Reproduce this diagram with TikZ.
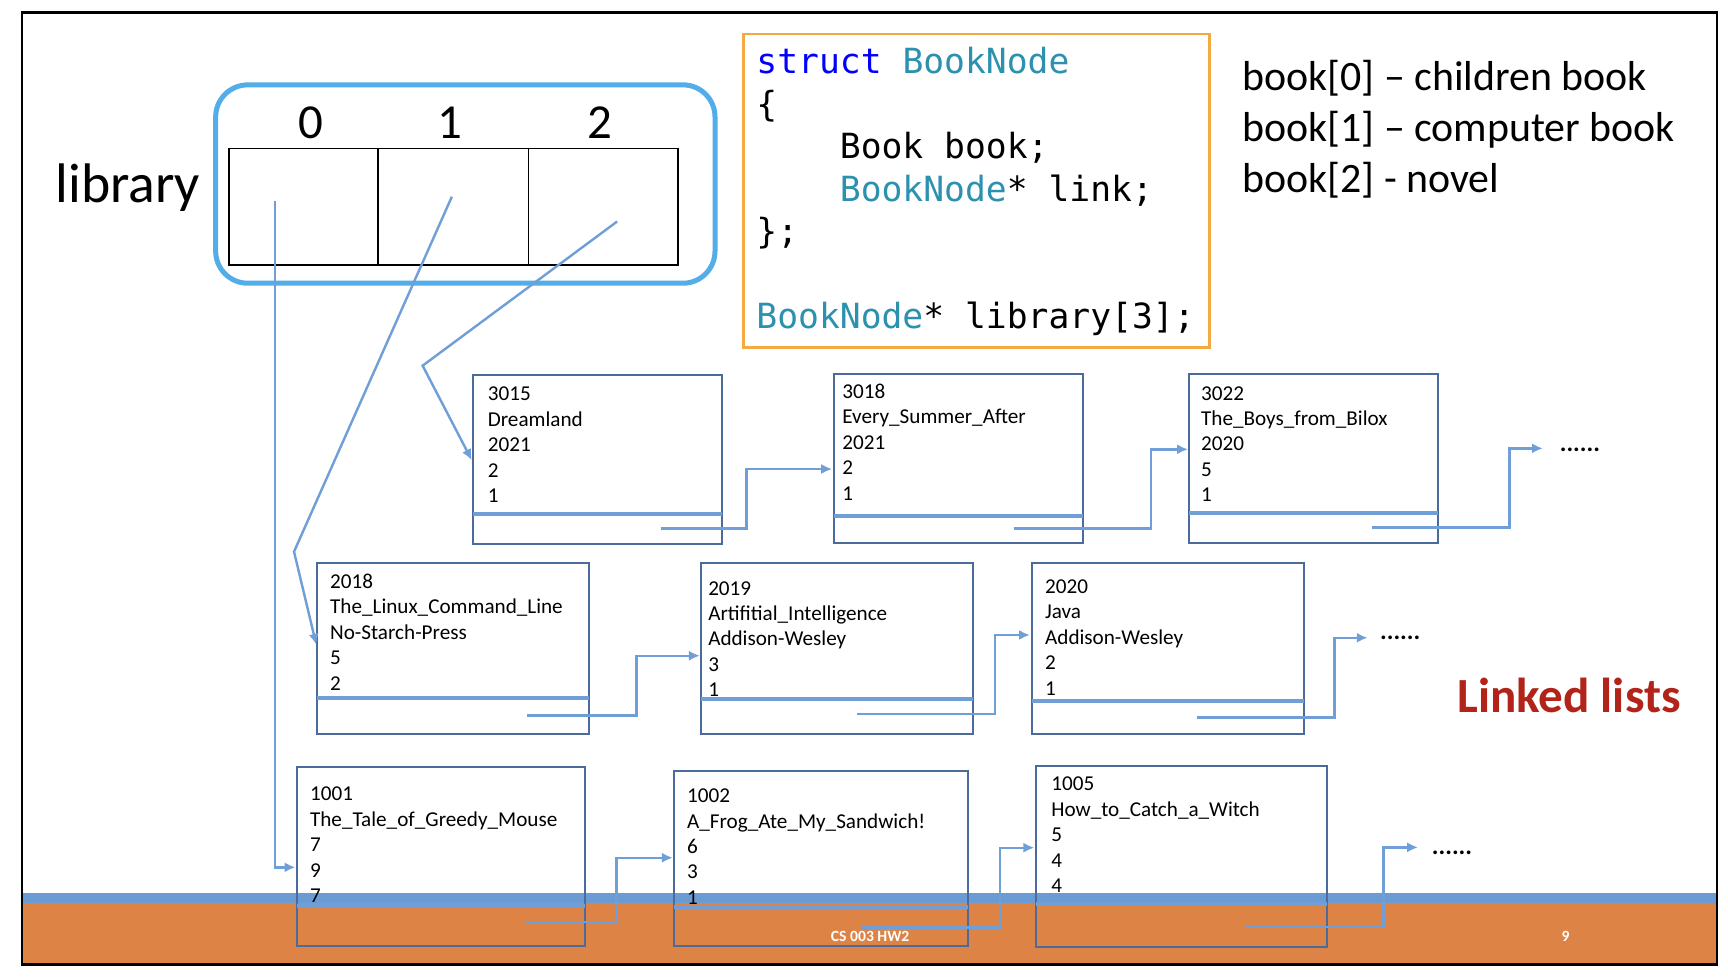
\documentclass[tikz,border=0pt]{standalone}
\usepackage{fontspec}
\setmainfont{Carlito}
\newfontfamily\codefont{DejaVu Sans Mono}
\usetikzlibrary{arrows.meta}
\definecolor{boxc}{RGB}{74,107,155}
\definecolor{linkc}{RGB}{112,158,214}
\definecolor{stripec}{RGB}{106,155,211}
\definecolor{footc}{RGB}{222,131,70}
\definecolor{arrc}{RGB}{82,173,232}
\definecolor{codeframe}{RGB}{245,170,65}
\definecolor{kw}{RGB}{0,0,255}
\definecolor{ty}{RGB}{43,145,175}
\definecolor{redc}{RGB}{178,35,25}
\newcommand\bookbox[6]{%
  \node[bookbox, minimum width={(#4-#2)*0.55pt}, minimum height={(#5-#3)*0.55pt}] (#1) at ({(#2+#4)/2},{(#3+#5)/2}) {};
  \draw[sepline] (#1.west |- 0,#6) -- (#1.east |- 0,#6);
}
\tikzset{
  bookbox/.style={draw=boxc, line width=1pt, inner sep=0pt, outer sep=0pt},
  sepline/.style={draw=linkc, line width=2pt},
  booktxt/.style={anchor=base west, inner sep=0pt, font=\fontsize{10.56pt}{12.7pt}\selectfont},
  ptr/.style={draw=linkc, line width=1.2pt, -{Latex[length=5.4pt,width=5pt]}},
  cellbox/.style={draw=black, line width=0.8pt, inner sep=0pt, minimum width=74.5pt, minimum height=58.2pt},
  idx/.style={anchor=base, inner sep=0pt, font=\fontsize{24.4pt}{28pt}\selectfont},
  dotstxt/.style={anchor=base west, inner sep=0pt, font=\fontsize{12.5pt}{14pt}\selectfont\bfseries},
  foot/.style={inner sep=0pt, text=white, font=\fontsize{7.8pt}{9pt}\selectfont\bfseries},
}
\begin{document}
\begin{tikzpicture}[x=0.55pt,y=-0.55pt]
\useasboundingbox (0,0) rectangle (1568,887);
\fill[white] (0,0) rectangle (1568,887);
% footer
\fill[stripec] (20,810) rectangle (1558,819);
\fill[footc] (20,819) rectangle (1558,874);
\draw[black, line width=1.4pt] (20,11) rectangle (1558,875);
\node[foot] (course) at (789.6,850) {CS 003 HW2};
\node[foot] (page) at (1420.6,850) {9};

% array
\draw[arrc, line width=2.5pt, rounded corners=16pt] (195.7,77) rectangle (648.8,257);
\node[anchor=base west, inner sep=0pt, font=\fontsize{27.8pt}{33pt}\selectfont] (lib) at (50,183.6) {library};
\node[idx] (i0) at (282,125.5) {0};
\node[idx] (i1) at (408,125.5) {1};
\node[idx] (i2) at (544,125.5) {2};
\node[cellbox, minimum width={135*0.55pt}, minimum height={105.9*0.55pt}] (cell0) at (275.5,187.55) {};
\node[cellbox, minimum width={136.5*0.55pt}, minimum height={105.9*0.55pt}] (cell1) at (411.25,187.55) {};
\node[cellbox, minimum width={135.5*0.55pt}, minimum height={105.9*0.55pt}] (cell2) at (547.25,187.55) {};

% code
\draw[codeframe, line width=1.3pt] (674.5,30.9) rectangle (1097.5,315.5);
\node[anchor=base west, inner sep=0pt, font=\codefont\fontsize{17.3pt}{21.2pt}\selectfont] (code) at (686,67) {%
\begin{tabular}[t]{@{}l@{}}
{\color{kw}struct} {\color{ty}BookNode}\\
\{\\
\phantom{0000}Book book;\\
\phantom{0000}{\color{ty}BookNode}* link;\\
\};\\
\mbox{}\\
{\color{ty}BookNode}* library[3];
\end{tabular}};

\node[anchor=base west, inner sep=0pt, font=\fontsize{20.9pt}{25.5pt}\selectfont] (kinds) at (1127,82.3) {%
\begin{tabular}[t]{@{}l@{}}
book[0] – children book\\
book[1] – computer book\\
book[2] - novel
\end{tabular}};

\node[anchor=base west, inner sep=0pt, text=redc, font=\fontsize{24.5pt}{28pt}\selectfont\bfseries] (title) at (1322,646.7) {Linked lists};

% boxes
\bookbox{b3015}{429.4}{340.3}{655.4}{493.6}{466.7}
\bookbox{b3018}{756.5}{339.4}{982.4}{492.8}{468.2}
\bookbox{b3022}{1079.3}{339.4}{1305.2}{492.4}{465.2}
\bookbox{b2018}{288}{511.2}{534.9}{666.4}{633}
\bookbox{b2019}{636.4}{510.6}{882.9}{666.4}{634.3}
\bookbox{b2020}{936.1}{511.2}{1183.4}{666.4}{636}
\bookbox{b1001}{269.8}{696.3}{530.7}{858.1}{822.1}
\bookbox{b1002}{611.9}{699.3}{878.2}{858.1}{822.7}
\bookbox{b1005}{939.9}{694.8}{1204.4}{859}{820.6}

\node[booktxt] (t3015) at (442.3,363.6) {\begin{tabular}[t]{@{}l@{}}3015\\Dreamland\\2021\\2\\1\end{tabular}};
\node[booktxt] (t3018) at (764,361.4) {\begin{tabular}[t]{@{}l@{}}3018\\Every\_Summer\_After\\2021\\2\\1\end{tabular}};
\node[booktxt] (t3022) at (1089.5,363) {\begin{tabular}[t]{@{}l@{}}3022\\The\_Boys\_from\_Bilox\\2020\\5\\1\end{tabular}};
\node[booktxt] (t2018) at (299.2,533.8) {\begin{tabular}[t]{@{}l@{}}2018\\The\_Linux\_Command\_Line\\No-Starch-Press\\5\\2\end{tabular}};
\node[booktxt] (t2019) at (642.3,539.9) {\begin{tabular}[t]{@{}l@{}}2019\\Artifitial\_Intelligence\\Addison-Wesley\\3\\1\end{tabular}};
\node[booktxt] (t2020) at (948,538.4) {\begin{tabular}[t]{@{}l@{}}2020\\Java\\Addison-Wesley\\2\\1\end{tabular}};
\node[booktxt] (t1001) at (281,726.8) {\begin{tabular}[t]{@{}l@{}}1001\\The\_Tale\_of\_Greedy\_Mouse\\7\\9\\7\end{tabular}};
\node[booktxt] (t1002) at (623.2,728.3) {\begin{tabular}[t]{@{}l@{}}1002\\A\_Frog\_Ate\_My\_Sandwich!\\6\\3\\1\end{tabular}};
\node[booktxt] (t1005) at (953.7,717.7) {\begin{tabular}[t]{@{}l@{}}1005\\How\_to\_Catch\_a\_Witch\\5\\4\\4\end{tabular}};

\node[dotstxt] (d1) at (1415,410) {......};
\node[dotstxt] (d2) at (1252,580.2) {......};
\node[dotstxt] (d3) at (1299,775.2) {......};

% pointer coordinates
\coordinate (c0) at (249.5,182);
\coordinate (c1) at (410,178.5);
\coordinate (c2) at (560,201);
\coordinate (in3015) at (428,417.4);
\coordinate (in2018) at (287,585);
\coordinate (in1001) at (268,787);
\coordinate (p3015) at (599.4,479.4);
\coordinate (in3018) at (755,425.6);
\coordinate (p3018) at (920,479.4);
\coordinate (in3022) at (1078,407.7);
\coordinate (p3022) at (1244.5,478.5);
\coordinate (e1) at (1400,406.8);
\coordinate (p2018) at (478.4,649.4);
\coordinate (in2019) at (635,595);
\coordinate (p2019) at (777.7,647.9);
\coordinate (in2020) at (934.5,576.2);
\coordinate (p2020) at (1085.7,651.2);
\coordinate (e2) at (1241,578.7);
\coordinate (p1001) at (477.4,836.4);
\coordinate (in1002) at (610.5,778.3);
\coordinate (p1002) at (782.1,841.5);
\coordinate (in1005) at (938.5,769.2);
\coordinate (p1005) at (1130.7,840.9);
\coordinate (e3) at (1286.7,768.9);

% library pointers
\draw[ptr] (c0) -- (249.5,787) -- (in1001);
\draw[ptr] (c1) -- (266.8,500.6) -- (in2018);
\draw[ptr] (c2) -- (383.5,331.8) -- (in3015);

% links
\draw[ptr] (p3015) -| (677.5,425.6) -- (in3018);
\draw[ptr] (p3018) -| (1044.4,407.7) -- (in3022);
\draw[ptr] (p3022) -| (1369.6,406.8) -- (e1);
\draw[ptr] (p2018) -| (577.7,595) -- (in2019);
\draw[ptr] (p2019) -| (902.7,576.2) -- (in2020);
\draw[ptr] (p2020) -| (1210.8,578.7) -- (e2);
\draw[ptr] (p1001) -| (559.5,778.3) -- (in1002);
\draw[ptr] (p1002) -| (907.5,769.2) -- (in1005);
\draw[ptr] (p1005) -| (1255.4,768.9) -- (e3);
\end{tikzpicture}
\end{document}
